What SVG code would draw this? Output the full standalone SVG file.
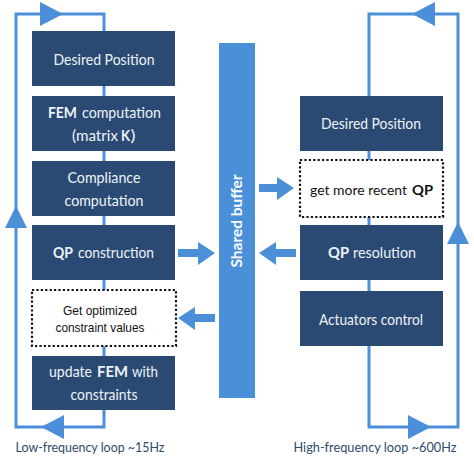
<svg xmlns="http://www.w3.org/2000/svg" width="474" height="466" viewBox="0 0 474 466">
<defs>
<style>
.box{fill:#2b4a73;}
.dot{fill:#fff;stroke:#111;stroke-width:2.2;stroke-dasharray:2.2 2.2;}
.bt{font-family:Lato,"Open Sans",sans-serif;font-size:16px;fill:#eef2f7;text-anchor:middle;}
.bs{font-family:Lato,"Open Sans",sans-serif;font-size:16px;fill:#eef2f7;}
.ds{font-family:Lato,"Open Sans",sans-serif;font-size:14px;fill:#111;}
.at{font-family:"Liberation Sans",Arial,sans-serif;font-size:13.5px;fill:#111;text-anchor:middle;}
.lbl{font-family:Lato,"Open Sans",sans-serif;font-size:14px;fill:#2e4a6e;text-anchor:middle;}
.b{font-weight:bold;}
.line{fill:none;stroke:#4a8fd8;stroke-width:3;}
.tri{fill:#4a8fd8;}
</style>
</defs>
<g id="connectors">
<path class="line" d="M104 31 V14 H16 V427 H104 V410"/>
<path class="line" d="M104 86 V356"/>
<polygon class="tri" points="63,14 40,2 40,26"/>
<polygon class="tri" points="16,206 5,228 27,228"/>
<polygon class="tri" points="41,427 64,415 64,439"/>
<path class="line" d="M369 96 V14 H458 V427 H369 V346"/>
<path class="line" d="M369 151 V291"/>
<polygon class="tri" points="412,14 435,2 435,26"/>
<polygon class="tri" points="458,222 447,244 469,244"/>
<polygon class="tri" points="431,427 408,415 408,439"/>
<polygon class="tri" points="178,249 198,249 198,242 215,253 198,265 198,257 178,257"/>
<polygon class="tri" points="215,314 195,314 195,307 178,318 195,330 195,322 215,322"/>
<polygon class="tri" points="259,184 277,184 277,177 294,188 277,200 277,192 259,192"/>
<polygon class="tri" points="296,249 276,249 276,242 259,253 276,265 276,257 296,257"/>
</g>
<g id="buffer">
<rect x="219" y="43" width="36" height="355" fill="#4a8fd8"/>
<text transform="translate(242 221) rotate(-90)" textLength="93" lengthAdjust="spacingAndGlyphs" style="font-family:Lato,'Open Sans',sans-serif;font-size:15px;font-weight:bold;fill:#fff;text-anchor:middle;">Shared buffer</text>
</g>
<g id="l-desired">
<rect class="box" x="32" y="31" width="143" height="55"/>
<text class="bt" x="104" y="65" textLength="101" lengthAdjust="spacingAndGlyphs">Desired Position</text>
</g>
<g id="l-fem">
<rect class="box" x="32" y="96" width="143" height="55"/>
<text class="bs b" x="48" y="118" textLength="29" lengthAdjust="spacingAndGlyphs">FEM</text>
<text class="bs" x="82" y="118" textLength="79" lengthAdjust="spacingAndGlyphs">computation</text>
<text class="bs" x="72" y="141" textLength="46" lengthAdjust="spacingAndGlyphs">(matrix</text>
<text class="bs b" x="121" y="141" textLength="9" lengthAdjust="spacingAndGlyphs">K</text>
<text class="bs" x="130.5" y="141" textLength="5" lengthAdjust="spacingAndGlyphs">)</text>
</g>
<g id="l-compliance">
<rect class="box" x="32" y="161" width="143" height="55"/>
<text class="bt" x="104" y="183" textLength="73" lengthAdjust="spacingAndGlyphs">Compliance</text>
<text class="bt" x="104" y="206" textLength="79" lengthAdjust="spacingAndGlyphs">computation</text>
</g>
<g id="l-qp">
<rect class="box" x="32" y="225" width="143" height="55"/>
<text class="bs b" x="53" y="258" textLength="20" lengthAdjust="spacingAndGlyphs">QP</text>
<text class="bs" x="78" y="258" textLength="76" lengthAdjust="spacingAndGlyphs">construction</text>
</g>
<g id="l-get">
<rect class="dot" x="32" y="290" width="144" height="56"/>
<text class="at" x="100" y="315" textLength="74" lengthAdjust="spacingAndGlyphs">Get optimized</text>
<text class="at" x="100" y="332" textLength="89" lengthAdjust="spacingAndGlyphs">constraint values</text>
</g>
<g id="l-update">
<rect class="box" x="32" y="356" width="143" height="54"/>
<text class="bs" x="49" y="377" textLength="43" lengthAdjust="spacingAndGlyphs">update</text>
<text class="bs b" x="97" y="377" textLength="31" lengthAdjust="spacingAndGlyphs">FEM</text>
<text class="bs" x="132" y="377" textLength="26" lengthAdjust="spacingAndGlyphs">with</text>
<text class="bt" x="104" y="400" textLength="67" lengthAdjust="spacingAndGlyphs">constraints</text>
</g>
<g id="r-desired">
<rect class="box" x="300" y="96" width="143" height="55"/>
<text class="bt" x="371" y="129" textLength="100" lengthAdjust="spacingAndGlyphs">Desired Position</text>
</g>
<g id="r-get">
<rect class="dot" x="300" y="160" width="143" height="57"/>
<text class="ds" x="310" y="195" textLength="97" lengthAdjust="spacingAndGlyphs">get more recent</text>
<text class="ds b" x="412" y="195" textLength="21" lengthAdjust="spacingAndGlyphs">QP</text>
</g>
<g id="r-qp">
<rect class="box" x="300" y="225" width="143" height="55"/>
<text class="bs b" x="328" y="258" textLength="21" lengthAdjust="spacingAndGlyphs">QP</text>
<text class="bs" x="353" y="258" textLength="63" lengthAdjust="spacingAndGlyphs">resolution</text>
</g>
<g id="r-act">
<rect class="box" x="300" y="291" width="143" height="55"/>
<text class="bt" x="371" y="325" textLength="104" lengthAdjust="spacingAndGlyphs">Actuators control</text>
</g>
<g id="labels">
<text class="lbl" x="90" y="452" textLength="149" lengthAdjust="spacingAndGlyphs">Low-frequency loop ~15Hz</text>
<text class="lbl" x="375" y="452" textLength="163" lengthAdjust="spacingAndGlyphs">High-frequency loop ~600Hz</text>
</g>
</svg>
